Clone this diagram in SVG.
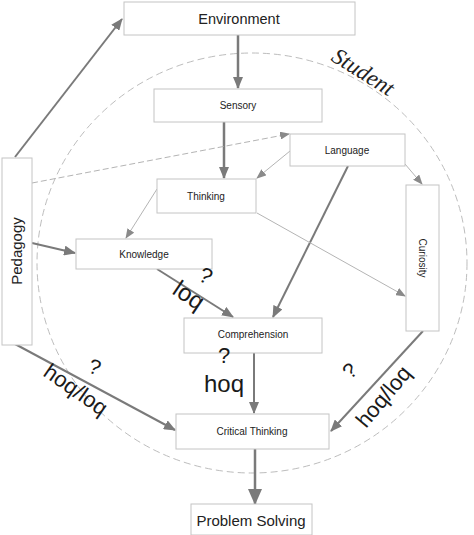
<svg xmlns="http://www.w3.org/2000/svg" width="474" height="535" viewBox="0 0 474 535">
<style>
.box{fill:#fff;stroke:#c4c4c4;stroke-width:1}
.t{font-family:"Liberation Sans",Arial,sans-serif;fill:#222;text-anchor:middle}
.thick{stroke:#7a7a7a;stroke-width:2.5;fill:none}
.med{stroke:#7a7a7a;stroke-width:2;fill:none}
.thin{stroke:#b4b4b4;stroke-width:1;fill:none}
.lbl{font-family:"Liberation Sans",Arial,sans-serif;fill:#1a1a1a}
</style>
<defs>
<marker id="ah" markerUnits="userSpaceOnUse" markerWidth="12" markerHeight="10" refX="11" refY="5" orient="auto"><path d="M0,0 L12,5 L0,10 Z" fill="#7a7a7a"/></marker>
<marker id="ahb" markerUnits="userSpaceOnUse" markerWidth="16" markerHeight="14" refX="15" refY="7" orient="auto"><path d="M0,0 L16,7 L0,14 Z" fill="#7a7a7a"/></marker>
<marker id="ahs" markerUnits="userSpaceOnUse" markerWidth="10" markerHeight="8" refX="9" refY="4" orient="auto"><path d="M0,0 L10,4 L0,8 Z" fill="#8a8a8a"/></marker>
</defs>
<ellipse cx="252" cy="263" rx="215" ry="210" fill="none" stroke="#bdbdbd" stroke-width="1" stroke-dasharray="7,4"/>
<text x="0" y="0" transform="translate(330,60) rotate(32)" style="font-family:'Liberation Serif','Times New Roman',serif;font-style:italic;font-size:23px;fill:#222">Student</text>
<g id="connectors">
<line class="med" x1="15" y1="157" x2="122" y2="19" marker-end="url(#ah)"/>
<line class="thick" x1="238" y1="35" x2="238" y2="88" marker-end="url(#ah)"/>
<line class="thick" x1="224" y1="122" x2="224" y2="178" marker-end="url(#ah)"/>
<line class="thin" x1="32" y1="183" x2="289" y2="134" stroke-dasharray="6,3" marker-end="url(#ahs)"/>
<line class="thin" x1="290" y1="151" x2="257" y2="178" marker-end="url(#ahs)"/>
<line class="med" x1="348" y1="166" x2="273" y2="317" marker-end="url(#ah)"/>
<line class="thin" x1="405" y1="164" x2="422" y2="184" marker-end="url(#ahs)"/>
<line class="thin" x1="157" y1="189" x2="126" y2="238" marker-end="url(#ahs)"/>
<line class="thin" x1="257" y1="213" x2="405" y2="296" marker-end="url(#ahs)"/>
<line class="med" x1="32" y1="243" x2="75" y2="253" marker-end="url(#ah)"/>
<line class="med" x1="157" y1="269" x2="233" y2="317" marker-end="url(#ah)"/>
<line class="med" x1="15" y1="344" x2="175" y2="430" marker-end="url(#ah)"/>
<line class="med" x1="254" y1="353" x2="254" y2="413" marker-end="url(#ah)"/>
<line class="med" x1="423" y1="331" x2="331" y2="431" marker-end="url(#ah)"/>
<line class="thick" x1="255" y1="449" x2="255" y2="504" marker-end="url(#ahb)"/>
</g>
<g id="environment"><rect class="box" x="124" y="2" width="231" height="33"/><text class="t" x="239" y="24" font-size="14.5">Environment</text></g>
<g id="sensory"><rect class="box" x="154" y="89" width="168" height="33"/><text class="t" x="238" y="109" font-size="10">Sensory</text></g>
<g id="language"><rect class="box" x="290" y="134" width="115" height="32"/><text class="t" x="347" y="154" font-size="10">Language</text></g>
<g id="thinking"><rect class="box" x="157" y="179" width="99" height="34"/><text class="t" x="206" y="200" font-size="10">Thinking</text></g>
<g id="knowledge"><rect class="box" x="76" y="239" width="136" height="30"/><text class="t" x="144" y="258" font-size="10">Knowledge</text></g>
<g id="pedagogy"><rect class="box" x="2" y="158" width="30" height="187"/><text class="t" x="0" y="0" font-size="15" transform="translate(22,251) rotate(-90)">Pedagogy</text></g>
<g id="curiosity"><rect class="box" x="406" y="185" width="33" height="146"/><text class="t" x="0" y="0" font-size="10" transform="translate(419,258) rotate(90)">Curiosity</text></g>
<g id="comprehension"><rect class="box" x="184" y="318" width="138" height="35"/><text class="t" x="253" y="338" font-size="10">Comprehension</text></g>
<g id="critical-thinking"><rect class="box" x="176" y="414" width="153" height="35"/><text class="t" x="252" y="435" font-size="10">Critical Thinking</text></g>
<g id="problem-solving"><rect class="box" x="191" y="504" width="121" height="31"/><text class="t" x="251" y="526" font-size="15">Problem Solving</text></g>
<g id="labels">
<text class="lbl" font-size="22" transform="translate(197,280) rotate(25)">?</text>
<text class="lbl" font-size="24" transform="translate(171,293) rotate(34)">loq</text>
<text class="lbl" font-size="22" x="218" y="363">?</text>
<text class="lbl" font-size="24" x="204" y="392">hoq</text>
<text class="lbl" font-size="21" transform="translate(87,372) rotate(18)">?</text>
<text class="lbl" font-size="22" transform="translate(42,375) rotate(35)">hoq/loq</text>
<text class="lbl" font-size="21" transform="translate(350,380) rotate(-40)">?</text>
<text class="lbl" font-size="22" transform="translate(366,429) rotate(-50)">hoq/loq</text>
</g>
</svg>
